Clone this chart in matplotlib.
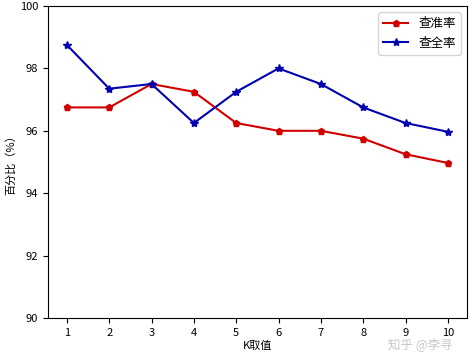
import matplotlib
matplotlib.use("Agg")
import matplotlib.pyplot as plt

plt.rcParams['font.family'] = ['Noto Sans CJK SC', 'DejaVu Sans']
plt.rcParams['axes.unicode_minus'] = False

k = [1, 2, 3, 4, 5, 6, 7, 8, 9, 10]
precision = [96.75, 96.75, 97.5, 97.25, 96.25, 96.0, 96.0, 95.75, 95.25, 94.97]
recall = [98.75, 97.35, 97.5, 96.25, 97.25, 98.0, 97.5, 96.75, 96.25, 95.97]

fig = plt.figure(figsize=(4.74, 3.53), dpi=100)
ax = fig.add_axes([0.101, 0.099, 0.884, 0.884])

ax.plot(k, precision, color='#d00000', marker='p', markersize=5, linewidth=1.5, label='查准率')
ax.plot(k, recall, color='#0000b0', marker='*', markersize=6, linewidth=1.5, label='查全率')

ax.set_ylim(90, 100)
ax.set_xticks(k)
ax.set_yticks([90, 92, 94, 96, 98, 100])
ax.tick_params(labelsize=8)
ax.set_xlabel('K取值', fontsize=8, labelpad=2)
ax.set_ylabel('百分比（%）', fontsize=8)
ax.yaxis.set_label_coords(-0.075, 0.5)
ax.legend(loc='upper right', fontsize=9)

# watermark, kept just below the tick labels
fig.text(0.955, 0.005, '知乎 @李寻', fontsize=9, color='#bbbbbb', ha='right', va='bottom', alpha=0.8)

fig.savefig('out.png', dpi=100)
